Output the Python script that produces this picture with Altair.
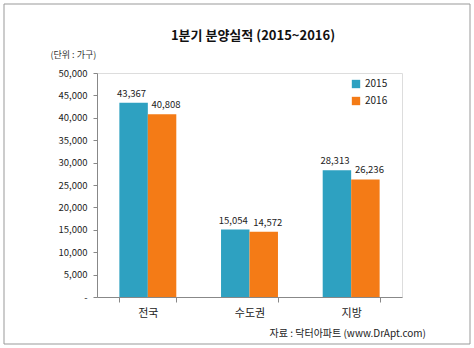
import altair as alt
import pandas as pd

regions = ["전국", "수도권", "지방"]
years = ["2015", "2016"]
v2015 = [43367, 15054, 28313]
v2016 = [40808, 14572, 26236]

rows = []
for i, r in enumerate(regions):
    rows.append({"region": r, "year": "2015", "value": v2015[i]})
    rows.append({"region": r, "year": "2016", "value": v2016[i]})
df = pd.DataFrame(rows)

FONT = "Noto Sans CJK KR"
colors = ["#2EA1C1", "#F47B16"]

x_enc = alt.X("region:N", sort=regions,
              scale=alt.Scale(paddingInner=0.44, paddingOuter=0.22),
              axis=alt.Axis(title=None, labelAngle=0, labelFontSize=11, labelColor="#222",
                            labelPadding=5, tickBand="extent", tickSize=5,
                            domainColor="#888", tickColor="#888", labelFont=FONT))
y_enc = alt.Y("value:Q", scale=alt.Scale(domain=[0, 50000]),
              axis=alt.Axis(values=list(range(0, 50001, 5000)), grid=False, labelOverlap=False,
                            labelExpr="datum.value == 0 ? '-' : format(datum.value, ',')",
                            labelFontSize=9.5, labelColor="#222", labelFont=FONT,
                            tickSize=4, domainColor="#888", tickColor="#888", labelPadding=6,
                            title="(단위 : 가구)", titleAngle=0, titleX=-47, titleY=-14,
                            titleAlign="left", titleFontSize=9, titleFontWeight="normal",
                            titleColor="#333", titleFont=FONT))

base = alt.Chart(df).encode(
    x=x_enc,
    xOffset=alt.XOffset("year:N", sort=years),
    y=y_enc,
)

bars = base.mark_bar().encode(
    color=alt.Color("year:N", sort=years,
                    scale=alt.Scale(domain=years, range=colors),
                    legend=alt.Legend(title=None, orient="none", legendX=254, legendY=6,
                                      symbolType="square", symbolSize=70, symbolStrokeWidth=0,
                                      labelFontSize=10, labelFont=FONT, labelColor="#222",
                                      rowPadding=7)),
)

labels15 = base.transform_filter("datum.year == '2015'").mark_text(
    dy=-9, dx=-2, fontSize=9.5, font=FONT, color="#222").encode(
    text=alt.Text("value:Q", format=","),
)
labels16 = base.transform_filter("datum.year == '2016'").mark_text(
    dy=-9, dx=4, fontSize=9.5, font=FONT, color="#222").encode(
    text=alt.Text("value:Q", format=","),
)

one = pd.DataFrame({"a": [0]})

frame = alt.Chart(one).mark_rect(
    fill=None, stroke="#999", strokeWidth=1
).encode(x=alt.value(-93), x2=alt.value(373), y=alt.value(-69), y2=alt.value(271))

title = alt.Chart(one).mark_text(
    align="center", baseline="middle", fontSize=13, fontWeight="bold", font=FONT, color="#111"
).encode(x=alt.value(156), y=alt.value(-37), text=alt.value("1분기  분양실적 (2015~2016)"))

source = alt.Chart(one).mark_text(
    align="right", baseline="middle", fontSize=10, font=FONT, color="#222"
).encode(x=alt.value(329), y=alt.value(261), text=alt.value("자료 : 닥터아파트 (www.DrApt.com)"))

chart = alt.layer(frame, bars, labels15, labels16, title, source).properties(
    width=305, height=224,
    autosize=alt.AutoSizeParams(type="none"),
    padding={"left": 97, "top": 73, "right": 72, "bottom": 51},
).configure_view(stroke=None).configure(background="white")

chart.save("out.html", embed_options={"renderer": "svg", "actions": False})
